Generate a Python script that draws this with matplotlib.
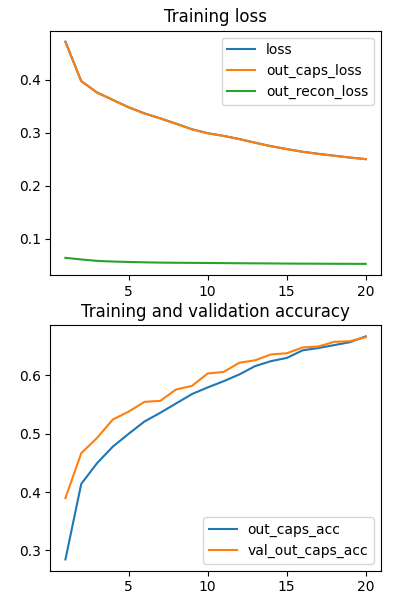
import matplotlib
matplotlib.use("Agg")
import matplotlib.pyplot as plt

epochs = list(range(1, 21))

out_caps_loss = [0.472, 0.3975, 0.376, 0.362, 0.348, 0.3365, 0.327, 0.317, 0.3065, 0.299,
                 0.294, 0.288, 0.281, 0.2745, 0.269, 0.264, 0.260, 0.2565, 0.253, 0.250]
out_recon_loss = [0.0635, 0.0605, 0.0577, 0.0565, 0.0557, 0.0550, 0.0545, 0.0542, 0.0540, 0.0538,
                  0.0535, 0.0533, 0.0531, 0.0529, 0.0527, 0.0525, 0.0524, 0.0523, 0.0522, 0.0521]
loss = [0.4722, 0.3977, 0.3762, 0.3622, 0.3482, 0.3367, 0.3272, 0.3172, 0.3067, 0.2992,
        0.2942, 0.2882, 0.2812, 0.2747, 0.2692, 0.2642, 0.2602, 0.2567, 0.2532, 0.2502]

out_caps_acc = [0.2846, 0.414, 0.4496, 0.478, 0.500, 0.521, 0.536, 0.552, 0.568, 0.5795,
                0.590, 0.6017, 0.616, 0.6245, 0.630, 0.643, 0.647, 0.652, 0.657, 0.667]
val_out_caps_acc = [0.3897, 0.4667, 0.4929, 0.5245, 0.538, 0.5547, 0.5564, 0.576, 0.582, 0.6034,
                    0.606, 0.6217, 0.626, 0.636, 0.638, 0.648, 0.6496, 0.6576, 0.6587, 0.6655]

fig = plt.figure(figsize=(4, 6), dpi=100)
ax1 = fig.add_axes([0.126, 0.5417, 0.826, 0.4073])
ax2 = fig.add_axes([0.126, 0.049, 0.826, 0.409])

ax1.plot(epochs, loss, label="loss")
ax1.plot(epochs, out_caps_loss, label="out_caps_loss")
ax1.plot(epochs, out_recon_loss, label="out_recon_loss")
ax1.set_title("Training loss")
ax1.set_xticks([5, 10, 15, 20])
ax1.set_yticks([0.1, 0.2, 0.3, 0.4])
ax1.legend(loc="upper right")

ax2.plot(epochs, out_caps_acc, label="out_caps_acc")
ax2.plot(epochs, val_out_caps_acc, label="val_out_caps_acc")
ax2.set_title("Training and validation accuracy")
ax2.set_xticks([5, 10, 15, 20])
ax2.set_yticks([0.3, 0.4, 0.5, 0.6])
ax2.legend(loc="lower right")

fig.savefig("out.png", dpi=100)
